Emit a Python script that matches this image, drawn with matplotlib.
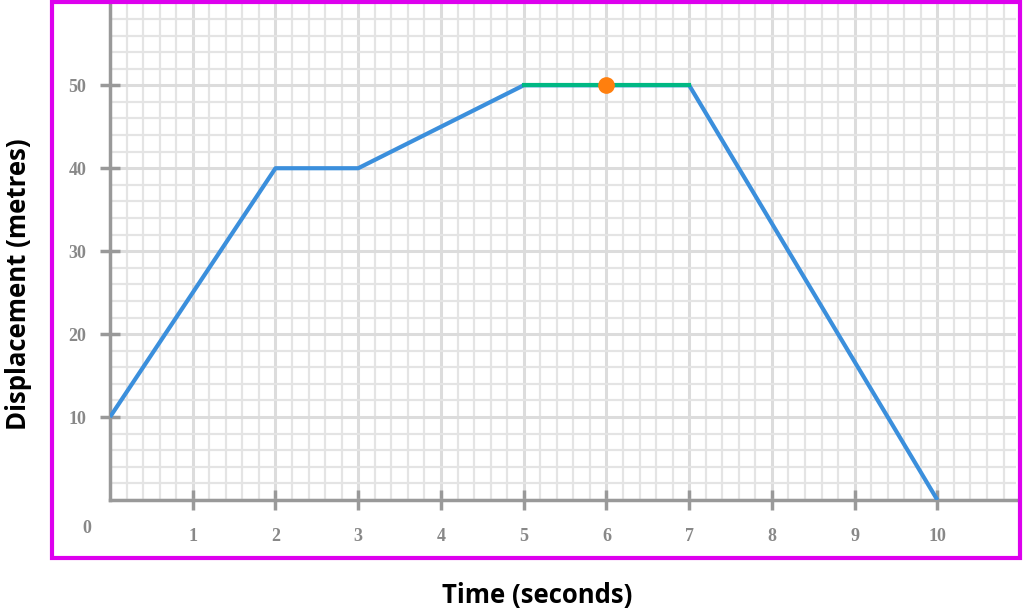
import matplotlib.pyplot as plt
from matplotlib.patches import Rectangle
from matplotlib.ticker import MultipleLocator

# journey data (time in s, displacement in m)
time_pts = [0, 2, 3, 5, 7, 10]
disp_pts = [10, 40, 40, 50, 50, 0]
# highlighted flat section and the marked point
flat_t = [5, 7]
flat_d = [50, 50]
point_t = [6]
point_d = [50]

x_ticks = [1, 2, 3, 4, 5, 6, 7, 8, 9, 10]
y_ticks = [10, 20, 30, 40, 50]

blue = '#3b8fdc'
green = '#00b884'
orange = '#ff7f0e'
gray = '#999999'
label_gray = '#888888'

fig = plt.figure(figsize=(10.24, 6.12), dpi=100)
ax = fig.add_axes([110 / 1024, 1 - 500 / 612, 906 / 1024, 496 / 612])

ax.set_xlim(0, 10.95)
ax.set_ylim(0, 59.8)

ax.xaxis.set_major_locator(MultipleLocator(1))
ax.xaxis.set_minor_locator(MultipleLocator(0.2))
ax.yaxis.set_major_locator(MultipleLocator(10))
ax.yaxis.set_minor_locator(MultipleLocator(2))
ax.grid(which='minor', color='#e4e4e4', lw=1.6, zorder=0)
ax.grid(which='major', color='#dcdcdc', lw=2.2, zorder=0)
ax.set_axisbelow(True)

ax.plot(time_pts, disp_pts, color=blue, lw=3, solid_capstyle='butt', zorder=3)
ax.plot(flat_t, flat_d, color=green, lw=3, zorder=4)
ax.plot(point_t, point_d, 'o', color=orange, ms=11, zorder=5)

for s in ['top', 'right']:
    ax.spines[s].set_visible(False)
for s in ['left', 'bottom']:
    ax.spines[s].set_color(gray)
    ax.spines[s].set_linewidth(2.5)

ax.set_xticks(x_ticks)
ax.set_yticks(y_ticks)
ax.tick_params(which='major', direction='inout', length=14, width=2.5, color=gray)
ax.tick_params(which='minor', length=0)
ax.tick_params(axis='x', pad=13)
ax.tick_params(axis='y', pad=10)
for lab in ax.get_xticklabels() + ax.get_yticklabels():
    lab.set_family('Liberation Serif')
    lab.set_fontweight('bold')
    lab.set_fontsize(13)
    lab.set_color(label_gray)

ax.text(-0.28, -3.4, '0', family='Liberation Serif', fontweight='bold',
        fontsize=13, color=label_gray, ha='center', va='center')

# magenta frame round the chart
fig.patches.append(Rectangle((52 / 1024, 1 - 558 / 612), 968 / 1024, 556 / 612,
                             transform=fig.transFigure, fill=False,
                             edgecolor='#dd00ee', lw=3, zorder=10))

fig.text(537 / 1024, 1 - 596 / 612, 'Time (seconds)', family='Open Sans',
         fontweight='bold', fontsize=18.5, ha='center', va='center')
fig.text(19 / 1024, 1 - 284 / 612, 'Displacement (metres)', family='Open Sans',
         fontweight='bold', fontsize=18.5, ha='center', va='center', rotation=90)

fig.savefig('out.png', dpi=100)
